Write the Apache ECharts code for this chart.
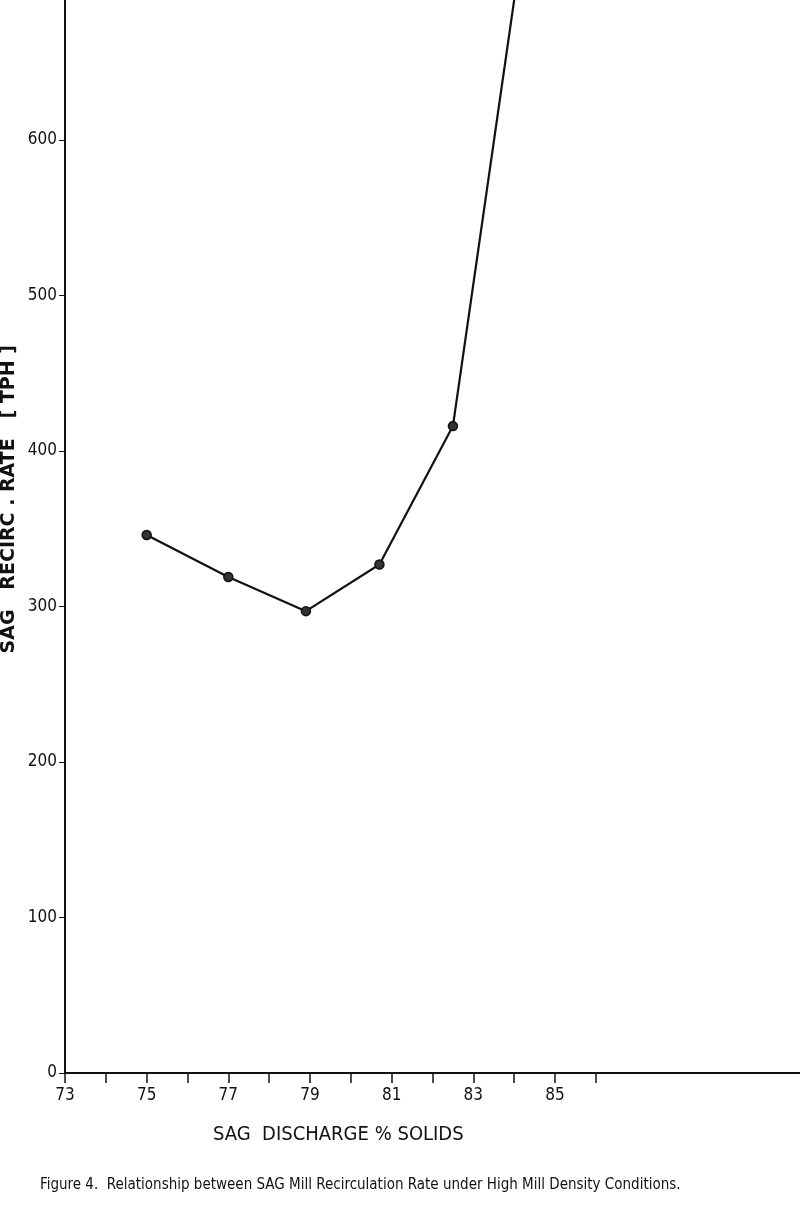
<!DOCTYPE html>
<html><head><meta charset="utf-8">
<script src="https://cdn.jsdelivr.net/npm/echarts@6/dist/echarts.min.js"></script>
<style>html,body{margin:0;padding:0;background:#fff}#c{width:800px;height:1209px}</style>
</head><body><div id="c"></div>
<script>
const xValues=[75,77,78.9,80.7,82.5,84.0];
const yValues=[346,319,297,327,416,690];
const markerCount=5;
const xTickLabels=[73,75,77,79,81,83,85];
const xTicks=[73,74,75,76,77,78,79,80,81,82,83,84,85,86];
const yTickLabels=[0,100,200,300,400,500,600];
const font='"Liberation Sans Narrow","DejaVu Sans Condensed",sans-serif';
const chart=echarts.init(document.getElementById('c'));
chart.setOption({
  animation:false,
  grid:{left:65,right:-10,top:0,bottom:136},
  xAxis:{type:'value',min:73,max:91,
    axisLine:{lineStyle:{color:'#111',width:2}},
    axisTick:{customValues:xTicks,length:10,lineStyle:{color:'#111',width:1.5}},
    axisLabel:{customValues:xTickLabels,color:'#111',fontFamily:font,fontSize:17,margin:14},
    splitLine:{show:false}},
  yAxis:{type:'value',min:0,max:690,
    axisLine:{show:true,lineStyle:{color:'#111',width:2}},
    axisTick:{show:true,customValues:yTickLabels,length:6,lineStyle:{color:'#111'}},
    axisLabel:{customValues:yTickLabels,color:'#111',fontFamily:font,fontSize:17},
    splitLine:{show:false}},
  graphic:[
    {type:'text',left:0,top:345,rotation:Math.PI/2,style:{text:'SAG   RECIRC . RATE   [ TPH ]',fill:'#111',font:'bold 19px "DejaVu Sans",sans-serif',align:'center',verticalAlign:'top'},x:2,y:0,originX:0,originY:0},
    {type:'text',left:213,top:1125,style:{text:'SAG  DISCHARGE % SOLIDS',fill:'#111',font:'20px '+font}},
    {type:'text',left:40,top:1178,style:{text:'Figure 4.  Relationship between SAG Mill Recirculation Rate under High Mill Density Conditions.',fill:'#111',font:'15px '+font}}
  ],
  series:[{type:'line',data:xValues.map((x,i)=>[x,yValues[i]]),
    lineStyle:{color:'#111',width:2.2},itemStyle:{color:'#333',borderColor:'#111',borderWidth:1.5},
    symbol:(v,p)=>p.dataIndex<markerCount?'circle':'none',symbolSize:9,clip:true}]
});
</script></body></html>
